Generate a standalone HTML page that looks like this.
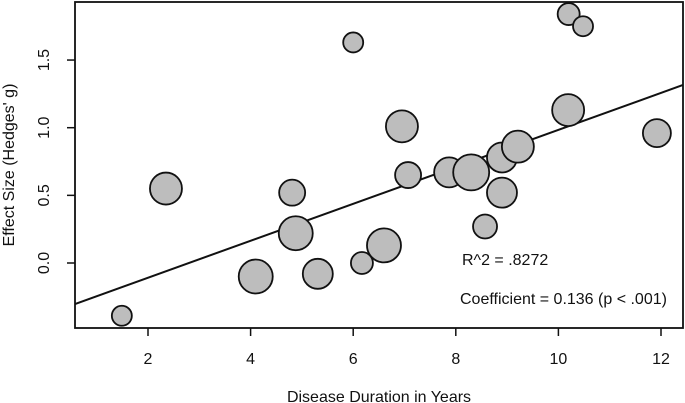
<!DOCTYPE html>
<html><head><meta charset="utf-8"><style>
html,body{margin:0;padding:0;background:#fff;}
svg{display:block;font-family:"Liberation Sans",Arial,sans-serif;}
</style></head><body>
<svg id="chart" width="685" height="403" viewBox="0 0 685 403"></svg>
<script>
const durations = [1.49,2.35,4.10,4.81,4.88,5.31,6.0,6.17,6.6,6.95,7.07,7.87,8.3,8.9,8.9,9.21,8.57,10.19,10.2,10.48,11.92];
const effects   = [-0.39,0.55,-0.10,0.52,0.22,-0.08,1.63,0.0,0.13,1.01,0.65,0.67,0.67,0.78,0.52,0.86,0.27,1.13,1.84,1.75,0.96];
const weights   = [10,16,17,13,17,15,10,11,17,16,13,15,18,15,15,16,12,16,11,10,14];
const xTicks = [2,4,6,8,10,12];
const yTicks = [0.0,0.5,1.0,1.5];
const yTickLabels = ["0.0","0.5","1.0","1.5"];
const slope = 0.1366, intercept = -0.382;

const NS="http://www.w3.org/2000/svg";
const svg=document.getElementById('chart');
const L=75,R=683,T=2,B=328;
const sx=v=>45.4+v*51.3;
const sy=v=>263-v*135.3;
function mk(t,a){const e=document.createElementNS(NS,t);for(const k in a)e.setAttribute(k,a[k]);svg.appendChild(e);return e;}

const x0=(L-45.4)/51.3, x1=(R-45.4)/51.3;
const line=mk('line',{x1:L,y1:sy(intercept+slope*x0),x2:R,y2:sy(intercept+slope*x1),stroke:'#111','stroke-width':2});



durations.forEach((d,i)=>{
  const c=mk('circle',{cx:sx(d),cy:sy(effects[i]),r:weights[i],fill:'#bdbdbd',stroke:'#111','stroke-width':1.8});
  
  
});

const frame=mk('rect',{x:L,y:T,width:R-L,height:B-T,fill:'none',stroke:'#111','stroke-width':1.8});



xTicks.forEach(t=>{
  const tk=mk('line',{x1:sx(t),y1:B,x2:sx(t),y2:B+8,stroke:'#111','stroke-width':1.5});
  
  
  const tx=mk('text',{x:sx(t),y:364,'text-anchor':'middle','font-size':16,fill:'#111'});
  tx.textContent=t;
  
  
});
yTicks.forEach((t,i)=>{
  const tk=mk('line',{x1:L,y1:sy(t),x2:L-8,y2:sy(t),stroke:'#111','stroke-width':1.5});
  
  
  const tx=mk('text',{x:0,y:0,'text-anchor':'middle','font-size':16,fill:'#111',transform:`translate(49,${sy(t)}) rotate(-90)`});
  tx.textContent=yTickLabels[i];
  
  
});
function txt(s,a,name){const e=mk('text',Object.assign({'font-size':16,fill:'#111'},a));e.textContent=s;return e;}
txt('Disease Duration in Years',{x:379,y:402,'text-anchor':'middle'},'x-axis-title');
txt("Effect Size (Hedges' g)",{x:0,y:0,'text-anchor':'middle',transform:'translate(14,165) rotate(-90)'},'y-axis-title');
txt('R^2 = .8272',{x:462,y:265},'r-squared-annotation');
txt('Coefficient = 0.136 (p < .001)',{x:460,y:304},'coefficient-annotation');
</script>
</body></html>
